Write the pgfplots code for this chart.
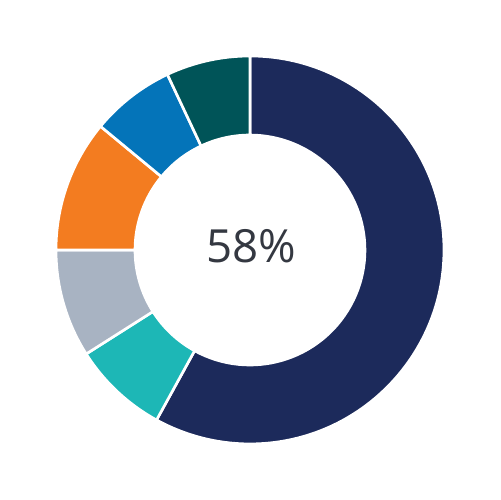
\documentclass[border=0pt]{standalone}
\usepackage{pgfplots}
\pgfplotsset{compat=1.18}
\usepackage{pgfplotstable}
\usepackage{fontspec}
\setmainfont{Open Sans}

\definecolor{cNavy}{HTML}{1C2A5B}
\definecolor{cTeal}{HTML}{1DB7B6}
\definecolor{cGray}{HTML}{A8B3C2}
\definecolor{cOrange}{HTML}{F37C20}
\definecolor{cBlue}{HTML}{0474B9}
\definecolor{cGreen}{HTML}{005458}
\definecolor{cText}{HTML}{343841}

% shares in percent, clockwise from 12 o'clock
\pgfplotstableread{
share color
58 cNavy
8  cTeal
9  cGray
11 cOrange
7  cBlue
7  cGreen
}\donutdata

\begin{document}
\begin{tikzpicture}
\begin{axis}[
  x=0.02cm, y=0.02cm,
  xmin=-250, xmax=250, ymin=-250, ymax=250,
  hide axis, clip=false,
]
\path (axis cs:-250,-250) rectangle (axis cs:250,250);
\pgfplotstablegetrowsof{\donutdata}
\pgfmathtruncatemacro{\nrows}{\pgfplotsretval-1}
\def\cum{0}
\pgfplotsforeachungrouped \i in {0,...,\nrows}{
  \pgfplotstablegetelem{\i}{share}\of\donutdata \let\share\pgfplotsretval
  \pgfplotstablegetelem{\i}{color}\of\donutdata \let\col\pgfplotsretval
  \pgfmathsetmacro{\aS}{90-3.6*\cum}
  \pgfmathsetmacro{\aE}{90-3.6*(\cum+\share)}
  \edef\temp{\noexpand\fill[\col, draw=white, line width=1.5pt]
    (axis cs:{194*cos(\aS)},{194*sin(\aS)})
    arc[start angle=\aS, end angle=\aE, radius=3.88cm]
    -- (axis cs:{115*cos(\aE)},{115*sin(\aE)})
    arc[start angle=\aE, end angle=\aS, radius=2.30cm] -- cycle;}
  \temp
  \pgfmathsetmacro{\cum}{\cum+\share}
}
\node[text=cText, font=\fontsize{26}{30}\selectfont] at (axis cs:1,4) {58\%};
\end{axis}
\end{tikzpicture}
\end{document}
